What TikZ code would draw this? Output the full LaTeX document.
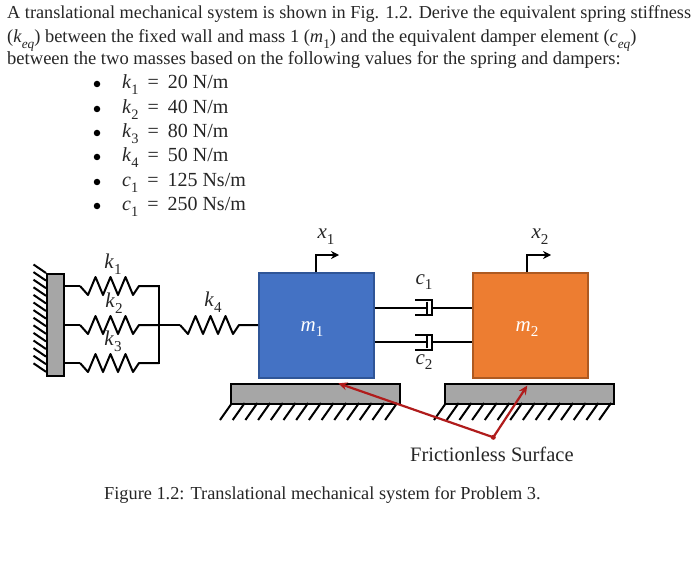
\documentclass[tikz,border=0pt]{standalone}
\usepackage{fontspec}
\setmainfont{Liberation Serif}
\usetikzlibrary{arrows.meta}
\definecolor{massblue}{HTML}{4472C4}
\definecolor{massblueb}{HTML}{2F5597}
\definecolor{massor}{HTML}{ED7D31}
\definecolor{massorb}{HTML}{AE5A21}
\definecolor{frgray}{HTML}{A6A6A6}
\definecolor{redarrow}{HTML}{B01C1C}
\definecolor{ink}{HTML}{262626}
\newcommand\mv[2]{\textit{#1}\raisebox{-0.28em}{\scalebox{0.72}{#2}}}
\newcommand\mvi[2]{\textit{#1}\raisebox{-0.28em}{\scalebox{0.72}{\textit{#2}}}}
\newcommand\eqsp{\hspace{9pt}=\hspace{9pt}}
\tikzset{
  wire/.style={draw=black,line width=2pt},
  springto/.style={wire,line join=round,to path={-- ++(8,9) -- ++(7.5,-18) -- ++(7.5,18) -- ++(7.5,-18) -- ++(7.5,18) -- ++(7.5,-18) -- ++(7.5,18) -- ++(6,-9) -- (\tikztotarget)}},
  hatch/.style={draw=black,line width=2pt},
  ground/.style={draw=black,fill=frgray,line width=2pt,anchor=north west,inner sep=0pt,minimum width=169pt,minimum height=20pt},
  massbox/.style={line width=1.6pt,anchor=north west,inner sep=0pt,minimum width=115pt,minimum height=105pt},
  disp/.style={wire,-{Stealth[length=8pt,width=8pt]}},
  pointer/.style={draw=redarrow,line width=2.2pt,-{Stealth[length=9pt,width=8pt]}},
  txt/.style={anchor=base west,inner sep=0pt,text=ink,font=\fontsize{18.25}{20}\selectfont},
  lab/.style={inner sep=0pt,text=ink,font=\fontsize{21}{23}\selectfont},
  bul/.style={circle,fill=black,inner sep=0pt,minimum size=6.5pt}
}
\begin{document}
\begin{tikzpicture}[x=1pt,y=-1pt]
\useasboundingbox (0,0) rectangle (700,569);
\fill[white] (0,0) rectangle (700,569);

% paragraph
\node[txt] (l1) at (7,19) {A translational mechanical system is shown in Fig. 1.2. Derive the equivalent spring stiffness};
\node[txt,font=\fontsize{18.45}{20}\selectfont] (l2) at (7,43) {(\mvi{k}{eq}) between the fixed wall and mass 1 (\mv{m}{1}) and the equivalent damper element (\mvi{c}{eq})};
\node[txt,font=\fontsize{18.55}{20}\selectfont] (l3) at (7,65) {between the two masses based on the following values for the spring and dampers:};

% list
\foreach \n/\yy/\t in {1/89/{\mv{k}{1}\eqsp 20 N/m},2/114/{\mv{k}{2}\eqsp 40 N/m},3/138/{\mv{k}{3}\eqsp 80 N/m},4/162/{\mv{k}{4}\eqsp 50 N/m},5/187/{\mv{c}{1}\eqsp 125 Ns/m},6/211/{\mv{c}{1}\eqsp 250 Ns/m}}{
  \node[bul] (b\n) at (97,\yy-5) {};
  \node[txt,font=\fontsize{20}{22}\selectfont] (t\n) at (122,\yy) {\t};
}

% wall
\node[draw=black,fill=frgray,line width=2pt,anchor=north west,inner sep=0pt,minimum width=16.7pt,minimum height=102pt] (wall) at (46,273) {};
\foreach \i in {0,...,13}{
  \draw[hatch] (46,273+\i*7.6) -- ++(-12.5,-8.5);
}

% masses
\node[massbox,fill=massblue,draw=massblueb] (m1) at (258,272) {};
\node[massbox,fill=massor,draw=massorb] (m2) at (472,272) {};
\node[lab,text=white] (m1l) at (312,329) {\mv{m}{1}};
\node[lab,text=white] (m2l) at (527,329) {\mv{m}{2}};

% springs
\coordinate (w1) at (wall.east |- 0,286);
\coordinate (w2) at (wall.east |- 0,325);
\coordinate (w3) at (wall.east |- 0,363);
\coordinate (s1a) at (80,286);
\coordinate (s2a) at (80,325);
\coordinate (s3a) at (80,363);
\coordinate (j1) at (159,286);
\coordinate (j2) at (159,325);
\coordinate (j3) at (159,363);
\coordinate (s4a) at (180,325);
\draw[wire] (w1) -- (s1a);
\draw[wire] (w2) -- (s2a);
\draw[wire] (w3) -- (s3a);
\draw[springto] (s1a) to (j1);
\draw[springto] (s2a) to (j2);
\draw[springto] (s3a) to (j3);
\draw[wire,line cap=rect] (j1) -- (j3);
\draw[wire] (j2) -- (s4a);
\draw[springto] (s4a) to (m1.west |- s4a);
\node[lab] (k1) at (113,264) {\mv{k}{1}};
\node[lab] (k2) at (114,303) {\mv{k}{2}};
\node[lab] (k3) at (113,341) {\mv{k}{3}};
\node[lab] (k4) at (213,302) {\mv{k}{4}};

% dampers
\foreach \d/\yy in {a/307.7,b/342.3}{
  \coordinate (p\d) at (427,\yy);
  \coordinate (q\d) at (431.7,\yy);
  \draw[wire] (m1.east |- p\d) -- (p\d);
  \draw[wire] (q\d) -- (m2.west |- q\d);
  \draw[wire] (427,\yy-6) -- (427,\yy+6);
  \draw[wire] (415,\yy-7.7) -- (431.7,\yy-7.7) -- (431.7,\yy+7.7) -- (415,\yy+7.7);
}
\node[lab] (c1) at (424,282) {\mv{c}{1}};
\node[lab] (c2) at (424,362) {\mv{c}{2}};

% displacement arrows
\coordinate (x1c) at (315.7,255);
\coordinate (x1e) at (339,255);
\coordinate (x2c) at (527,255);
\coordinate (x2e) at (551,255);
\draw[disp] (m1.north -| x1c) -- (x1c) -- (x1e);
\draw[disp] (m2.north -| x2c) -- (x2c) -- (x2e);
\node[lab] (x1) at (326,237) {\mv{x}{1}};
\node[lab] (x2) at (540,237) {\mv{x}{2}};

% ground
\node[ground] (g1) at (230,383) {};
\node[ground] (g2) at (444,383) {};
\foreach \i in {0,...,13}{
  \draw[hatch] (232+\i*12.7,403) -- ++(-12,17);
  \draw[hatch] (446+\i*12.7,403) -- ++(-12,17);
}

% pointers
\coordinate (fp) at (493.3,437.3);
\draw[pointer] (fp) -- (338.3,383.3);
\draw[pointer] (fp) -- (527.3,385.5);
\fill[redarrow] (fp) circle (2.5pt);

% captions
\node[txt,font=\fontsize{20.5}{22}\selectfont] (fs) at (410,461) {Frictionless Surface};
\node[txt,font=\fontsize{18.3}{22}\selectfont] (cap) at (104,499) {Figure 1.2: Translational mechanical system for Problem 3.};
\end{tikzpicture}
\end{document}
